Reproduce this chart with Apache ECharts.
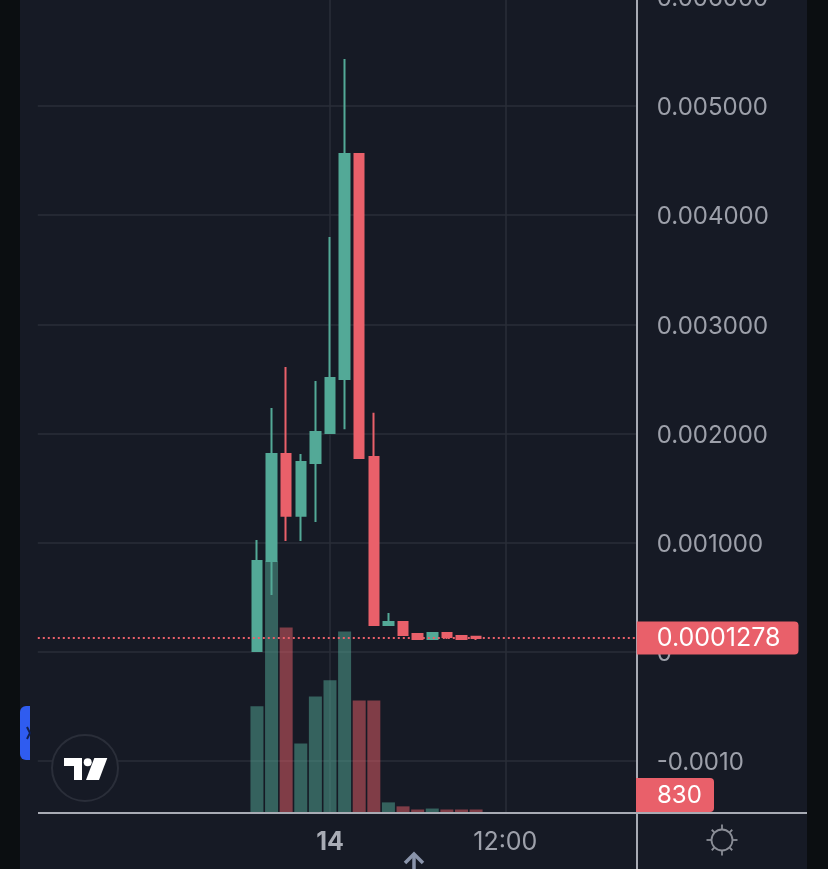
<!DOCTYPE html>
<html>
<head>
<meta charset="utf-8">
<style>html,body{margin:0;padding:0;background:#0b0e11}#c{width:828px;height:869px}</style>
<script src="https://cdn.jsdelivr.net/npm/echarts@6/dist/echarts.min.js"></script>
</head>
<body>
<div id="c"></div>
<script>
const categories = ['04:00','05:00','06:00','07:00','08:00','09:00','10:00','11:00','12:00','13:00','14:00','15:00','16:00','17:00','18:00','19:00','20:00','21:00','22:00','23:00','14','01:00','02:00','03:00','04:00','05:00','06:00','07:00','08:00','09:00','10:00','11:00','12:00','13:00','14:00','15:00','16:00','17:00','18:00','19:00','20:00','21:00'];
const shownTimeLabels = { 20: '14', 32: '12:00' };
const firstCandleIndex = 15;
const opens  = [0.00001, 0.000833, 0.001813, 0.001248, 0.001731, 0.002005, 0.0025, 0.00456, 0.001786, 0.000247, 0.000275, 0.000165, 0.000119, 0.000174, 0.000147, 0.00014];
const closes = [0.000833, 0.001813, 0.001248, 0.00174, 0.002015, 0.002509, 0.00456, 0.001777, 0.000247, 0.000275, 0.000156, 0.000119, 0.000174, 0.000137, 0.000119, 0.0001278];
const lows   = [0.00001, 0.000522, 0.001016, 0.001016, 0.00119, 0.002005, 0.00204, 0.001777, 0.000247, 0.000247, 0.000156, 0.000119, 0.000119, 0.000119, 0.000119, 0.00011];
const highs  = [0.001026, 0.002234, 0.00261, 0.001813, 0.002482, 0.0038, 0.00543, 0.00456, 0.00219, 0.000357, 0.000284, 0.000165, 0.000174, 0.000183, 0.000147, 0.00014];
const volumes = [29400, 69500, 51200, 19100, 32100, 36600, 50100, 31000, 31000, 2800, 1700, 830, 1100, 830, 830, 830];
const priceTicks = [-0.002, -0.001, 0, 0.001, 0.002, 0.003, 0.004, 0.005, 0.006];
const priceTickLabels = ['', '-0.0010', '0', '0.001000', '0.002000', '0.003000', '0.004000', '0.005000', '0.006000'];
const lastPriceLabel = '0.0001278';
const lastVolumeLabel = '830';

const UP = '#53a997', DOWN = '#e9606a', BG = '#161a25', EDGE = '#0b0e11';
const GRID = '#2a2e39', FRAME = '#a8abb4', TXT = '#9da0aa';
const FONT = 'Inter, "Noto Sans", sans-serif';

const pad = new Array(firstCandleIndex).fill('-');
const candleData = pad.concat(opens.map((o, i) => [o, closes[i], lows[i], highs[i]]));
const volumeData = pad.concat(volumes.map((v, i) => ({
  value: v,
  itemStyle: { color: closes[i] >= opens[i] ? 'rgba(83,169,151,0.5)' : 'rgba(233,96,106,0.5)' }
})));

const gearRays = [];
for (let a = 0; a < 8; a++) {
  const t = a * Math.PI / 4;
  gearRays.push({
    type: 'line', z: 20,
    shape: { x1: 722 + 10.5 * Math.cos(t), y1: 840 + 10.5 * Math.sin(t), x2: 722 + (a % 2 ? 14.5 : 15.5) * Math.cos(t), y2: 840 + (a % 2 ? 14.5 : 15.5) * Math.sin(t) },
    style: { stroke: '#8a8d96', lineWidth: 1.8 }
  });
}

const chart = echarts.init(document.getElementById('c'), null, { renderer: 'canvas' });
chart.setOption({
  animation: false,
  backgroundColor: BG,
  textStyle: { fontFamily: FONT },
  grid: [
    { left: 37.8, right: 828 - 636.8, top: -3.2, height: 873.6, outerBoundsMode: 'none' },
    { left: 37.8, right: 828 - 636.8, top: 0, height: 812.5, outerBoundsMode: 'none' }
  ],
  xAxis: [
    { type: 'category', gridIndex: 0, data: categories, boundaryGap: false, show: false },
    {
      type: 'category', gridIndex: 1, data: categories, boundaryGap: false,
      axisLine: { show: false }, axisTick: { show: false },
      axisLabel: {
        interval: (i) => i in shownTimeLabels,
        formatter: (v, i) => shownTimeLabels[i] === '14' ? '{b|14}' : (shownTimeLabels[i] || ''),
        color: TXT, fontSize: 25, fontFamily: FONT, margin: 17,
        rich: { b: { fontWeight: 'bold', fontSize: 25, color: '#a9acb5', fontFamily: FONT } }
      },
      splitLine: { show: true, interval: (i) => i in shownTimeLabels, lineStyle: { color: GRID, width: 1.5 } }
    }
  ],
  yAxis: [
    {
      type: 'value', gridIndex: 0, position: 'right', min: -0.002, max: 0.006, interval: 0.001,
      axisLine: { show: true, onZero: false, lineStyle: { color: FRAME, width: 2 } },
      axisTick: { show: false },
      axisLabel: {
        margin: 20, color: TXT, fontSize: 24, fontFamily: FONT,
        rich: { a: { color: TXT, fontSize: 24, fontFamily: FONT, padding: [4, 0, 0, 0] } },
        formatter: (v) => {
          const k = priceTicks.findIndex(t => Math.abs(t - v) < 1e-9);
          return k >= 0 && priceTickLabels[k] ? '{a|' + priceTickLabels[k] + '}' : '';
        }
      },
      splitLine: { show: true, lineStyle: { color: GRID, width: 1.5 } }
    },
    { type: 'value', gridIndex: 1, min: 0, max: 225000, show: false, splitLine: { show: false } }
  ],
  series: [
    {
      type: 'candlestick', xAxisIndex: 0, yAxisIndex: 0, data: candleData, barWidth: 10, z: 2,
      itemStyle: { color: UP, color0: DOWN, borderColor: UP, borderColor0: DOWN, borderWidth: 2 },
      markLine: {
        silent: true, symbol: 'none', z: 10, animation: false, precision: 7,
        data: [{ yAxis: closes[closes.length - 1] }],
        lineStyle: { color: DOWN, type: [2, 3], width: 2 },
        label: {
          show: true, position: 'end', distance: 0, formatter: lastPriceLabel,
          backgroundColor: DOWN, color: '#ffffff', fontSize: 25, fontFamily: FONT,
          padding: [5, 18, 3, 20], borderRadius: [0, 4, 4, 0]
        }
      }
    },
    {
      type: 'bar', xAxisIndex: 1, yAxisIndex: 1, data: volumeData, barWidth: 13, z: 3
    }
  ],
  graphic: [
    { type: 'rect', z: 30, shape: { x: 0, y: 0, width: 20, height: 869 }, style: { fill: EDGE } },
    { type: 'rect', z: 30, shape: { x: 807, y: 0, width: 21, height: 869 }, style: { fill: EDGE } },
    { type: 'rect', z: 31, shape: { x: 20, y: 706, width: 10, height: 54, r: [6, 0, 0, 6] }, style: { fill: '#2f5cf0' } },
    { type: 'polyline', z: 32, shape: { points: [[27, 727], [30, 733], [27, 739]] }, style: { fill: 'none', stroke: '#10204f', lineWidth: 2 } },
    { type: 'circle', z: 6, shape: { cx: 85, cy: 768, r: 33 }, style: { fill: BG, stroke: GRID, lineWidth: 2 } },
    { type: 'polygon', z: 7, shape: { points: [[64, 758], [82, 758], [82, 780], [74, 780], [74, 766], [64, 766]] }, style: { fill: '#ffffff' } },
    { type: 'circle', z: 7, shape: { cx: 87.7, cy: 762.3, r: 4 }, style: { fill: '#ffffff' } },
    { type: 'polygon', z: 7, shape: { points: [[94.3, 758], [107.3, 758], [99, 780], [86, 780]] }, style: { fill: '#ffffff' } },
    { type: 'line', z: 8, shape: { x1: 38, y1: 813, x2: 807, y2: 813 }, style: { stroke: FRAME, lineWidth: 2 } },
    { type: 'rect', z: 20, shape: { x: 636, y: 778, width: 78, height: 34, r: [0, 4, 4, 0] }, style: { fill: DOWN } },
    { type: 'text', z: 21, style: { x: 657, y: 796, text: lastVolumeLabel, fill: '#ffffff', fontSize: 24, fontFamily: FONT, verticalAlign: 'middle' } },
    { type: 'circle', z: 20, shape: { cx: 722, cy: 840, r: 10.5 }, style: { fill: 'none', stroke: '#8a8d96', lineWidth: 1.8 } },
    ...gearRays,
    { type: 'polyline', z: 20, shape: { points: [[405, 863], [414, 854], [423, 863]] }, style: { fill: 'none', stroke: '#8a94ab', lineWidth: 3.5 } },
    { type: 'line', z: 20, shape: { x1: 414, y1: 855, x2: 414, y2: 869 }, style: { stroke: '#8a94ab', lineWidth: 3.5 } }
  ]
});
</script>
</body>
</html>
